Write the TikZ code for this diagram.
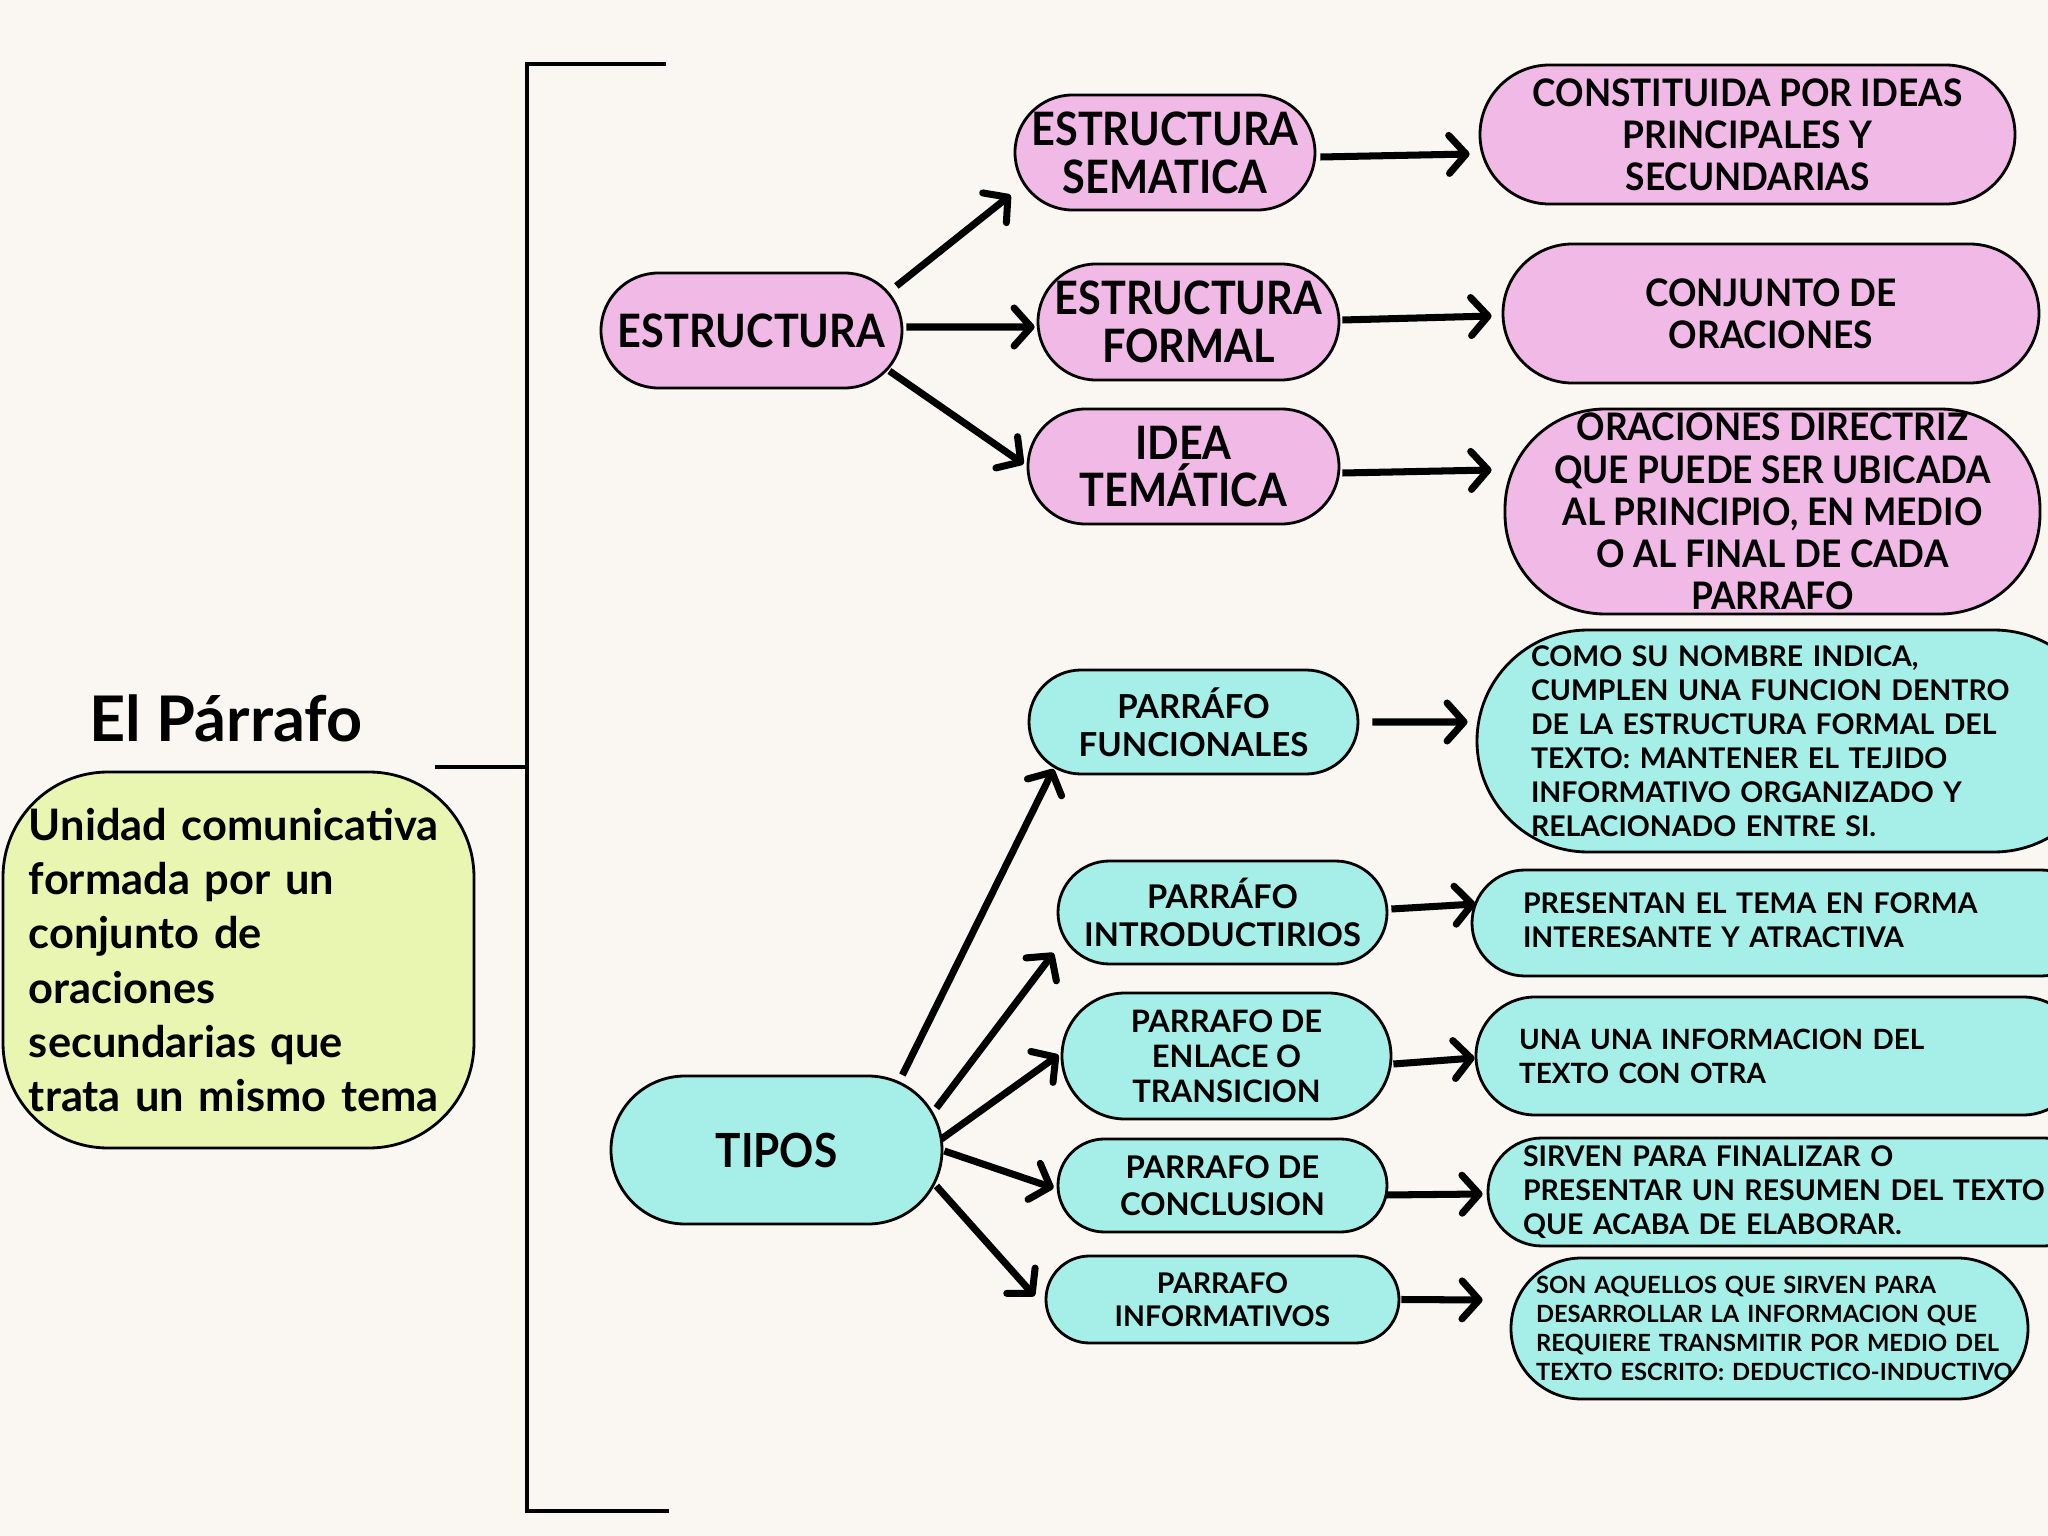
\documentclass[tikz,border=0pt]{standalone}
\usepackage{fontspec}
\setmainfont{Lato}
\newfontfamily\narrowf[FakeStretch=0.9]{Lato}
\newfontfamily\semif[FakeStretch=0.93]{Lato}
\usetikzlibrary{arrows.meta,calc}
\definecolor{bgc}{RGB}{250,246,241}
\definecolor{pinkc}{RGB}{240,185,230}
\definecolor{cyanc}{RGB}{166,238,232}
\definecolor{limec}{RGB}{233,246,178}
\newcommand\fsz[2]{\bfseries\fontsize{#1}{#2}\selectfont}
\newcommand\lnb[1]{\mbox{#1}}
\tikzset{
  box/.style={draw=black, line width=0.8pt, text=black, inner sep=0pt, align=center},
  pinkbox/.style={box, fill=pinkc},
  cyanbox/.style={box, fill=cyanc},
  leftbox/.style={cyanbox, align=left},
  arr/.style={line width=2pt, -{Straight Barb[length=0.17cm,width=0.38cm,round]}},
  brk/.style={line width=0.9pt}
}
\begin{document}
\begin{tikzpicture}
\path[use as bounding box, fill=bgc] (0,0) rectangle (20.48,-15.36);
\clip (0,0) rectangle (20.48,-15.36);

% bracket
\draw[brk] (6.66,-0.64) -- (5.27,-0.64) -- (5.27,-15.11) -- (6.69,-15.11);
\draw[brk] (4.35,-7.67) -- (5.25,-7.67);

% title and definition
\node[anchor=base, font=\fsz{17.9}{20}] (title) at (2.26,-7.42) {El Párrafo};
\node[box, fill=limec, text width=4.19cm, inner xsep=0.26cm, align=left, minimum height=3.76cm, rounded corners=1.05cm, font=\fsz{12.35}{15.4}] (def) at (2.385,-9.60)
  {\lnb{Unidad comunicativa}\\\lnb{formada por un}\\\lnb{conjunto de}\\\lnb{oraciones}\\\lnb{secundarias que}\\\lnb{trata un mismo tema}};

% estructura branch
\node[pinkbox, minimum width=3.01cm, minimum height=1.15cm, rounded corners=0.575cm, font=\narrowf\fsz{13.1}{13.6}] (estr) at (7.515,-3.305) {ESTRUCTURA};
\node[pinkbox, minimum width=3.00cm, minimum height=1.15cm, rounded corners=0.575cm, font=\narrowf\fsz{13.1}{13.6}] (sem) at (11.65,-1.525) {ESTRUCTURA\\SEMATICA};
\node[pinkbox, minimum width=3.01cm, minimum height=1.16cm, rounded corners=0.58cm, font=\narrowf\fsz{13.1}{13.6}] (form) at (11.885,-3.22) {ESTRUCTURA\\FORMAL};
\node[pinkbox, minimum width=3.11cm, minimum height=1.15cm, rounded corners=0.575cm, font=\narrowf\fsz{13.1}{13.6}] (idea) at (11.835,-4.665) {IDEA\\TEMÁTICA};

\node[pinkbox, minimum width=5.35cm, minimum height=1.39cm, rounded corners=0.695cm, font=\semif\fsz{10.8}{12}] (const) at (17.475,-1.345) {CONSTITUIDA POR IDEAS\\PRINCIPALES Y\\SECUNDARIAS};
\node[pinkbox, minimum width=5.36cm, minimum height=1.39cm, rounded corners=0.695cm, font=\semif\fsz{10.8}{12}] (conj) at (17.71,-3.135) {CONJUNTO DE\\ORACIONES};
\node[pinkbox, minimum width=5.35cm, minimum height=2.05cm, rounded corners=1.0cm, font=\semif\fsz{10.8}{12}] (orac) at (17.725,-5.115) {ORACIONES DIRECTRIZ\\QUE PUEDE SER UBICADA\\AL PRINCIPIO, EN MEDIO\\O AL FINAL DE CADA\\PARRAFO};

% tipos branch
\node[cyanbox, minimum width=3.31cm, minimum height=1.48cm, rounded corners=0.74cm, font=\narrowf\fsz{13.4}{14}] (tipos) at (7.765,-11.50) {TIPOS};
\node[cyanbox, minimum width=3.29cm, minimum height=1.04cm, rounded corners=0.52cm, font=\fsz{9.4}{10.8}] (func) at (11.935,-7.22) {PARRÁFO\\FUNCIONALES};
\node[cyanbox, minimum width=3.29cm, minimum height=1.03cm, rounded corners=0.515cm, font=\fsz{9.3}{10.8}] (intro) at (12.225,-9.125) {PARRÁFO\\INTRODUCTIRIOS};
\node[cyanbox, minimum width=3.29cm, minimum height=1.26cm, rounded corners=0.63cm, font=\fsz{8.8}{10}] (enl) at (12.265,-10.56) {PARRAFO DE\\ENLACE O\\TRANSICION};
\node[cyanbox, minimum width=3.29cm, minimum height=0.93cm, rounded corners=0.465cm, font=\fsz{8.9}{10.5}] (concl) at (12.225,-11.855) {PARRAFO DE\\CONCLUSION};
\node[cyanbox, minimum width=3.53cm, minimum height=0.87cm, rounded corners=0.435cm, font=\fsz{8.1}{9.4}] (info) at (12.225,-12.995) {PARRAFO\\INFORMATIVOS};

\node[leftbox, text width=5.20cm, inner xsep=0.54cm, minimum height=2.22cm, rounded corners=1.11cm, font=\fsz{8.1}{9.7}] (como) at (17.91,-7.41)
  {\lnb{COMO SU NOMBRE INDICA,}\\\lnb{CUMPLEN UNA FUNCION DENTRO}\\\lnb{DE LA ESTRUCTURA FORMAL DEL}\\\lnb{TEXTO: MANTENER EL TEJIDO}\\\lnb{INFORMATIVO ORGANIZADO Y}\\\lnb{RELACIONADO ENTRE SI.}};
\node[leftbox, text width=5.20cm, inner xsep=0.51cm, minimum height=1.06cm, rounded corners=0.53cm, font=\fsz{8.1}{9.7}] (pres) at (17.83,-9.23)
  {\lnb{PRESENTAN EL TEMA EN FORMA}\\\lnb{INTERESANTE Y ATRACTIVA}\vphantom{g}};
\node[leftbox, text width=5.20cm, inner xsep=0.43cm, minimum height=1.18cm, rounded corners=0.59cm, font=\fsz{7.95}{9.7}] (una) at (17.79,-10.56)
  {\lnb{UNA UNA INFORMACION DEL}\\\lnb{TEXTO CON OTRA}};
\node[leftbox, text width=5.40cm, inner xsep=0.35cm, minimum height=1.08cm, rounded corners=0.54cm, font=\fsz{8.1}{9.6}] (sirv) at (17.93,-11.92)
  {\lnb{SIRVEN PARA FINALIZAR O}\\\lnb{PRESENTAR UN RESUMEN DEL TEXTO}\\\lnb{QUE ACABA DE ELABORAR.}};
\node[leftbox, text width=4.67cm, inner xsep=0.25cm, minimum height=1.41cm, rounded corners=0.705cm, font=\fsz{6.75}{8.2}] (son) at (17.695,-13.285)
  {\lnb{SON AQUELLOS QUE SIRVEN PARA}\\\lnb{DESARROLLAR LA INFORMACION QUE}\\\lnb{REQUIERE TRANSMITIR POR MEDIO DEL}\\\lnb{TEXTO ESCRITO: DEDUCTICO-INDUCTIVO}};

% arrows
\draw[arr] ($(estr.east)+(-0.07,0.445)$) -- ($(sem.west)+(-0.03,-0.425)$);
\draw[arr] ($(estr.east)+(0.03,0.035)$) -- ($(form.west)+(-0.02,-0.05)$);
\draw[arr] ($(estr.east)+(-0.14,-0.405)$) -- ($(idea.west)+(-0.03,0.025)$);
\draw[arr] ($(sem.east)+(0.04,-0.045)$) -- ($(const.west)+(-0.09,-0.195)$);
\draw[arr] ($(form.east)+(0.02,0.02)$) -- ($(conj.west)+(-0.10,-0.025)$);
\draw[arr] ($(idea.east)+(0.02,-0.065)$) -- ($(orac.west)+(-0.12,0.415)$);

\draw[arr] ($(tipos.east)+(-0.41,0.75)$) -- ($(func.west)+(0.26,-0.47)$);
\draw[arr] ($(tipos.east)+(-0.07,0.42)$) -- ($(intro.west)+(-0.03,-0.405)$);
\draw[arr] ($(tipos.east)+(-0.02,0.11)$) -- ($(enl.west)+(-0.02,0.01)$);
\draw[arr] ($(tipos.east)+(0.01,-0.01)$) -- ($(concl.west)+(-0.03,-0.025)$);
\draw[arr] ($(tipos.east)+(-0.07,-0.36)$) -- ($(info.west)+(-0.10,0.035)$);

\draw[arr] ($(func.east)+(0.13,0)$) -- ($(como.west)+(-0.08,0.19)$);
\draw[arr] ($(intro.east)+(0.03,0.035)$) -- ($(pres.west)+(0.05,0.19)$);
\draw[arr] ($(enl.east)+(0.01,-0.08)$) -- ($(una.west)+(0,-0.02)$);
\draw[arr] ($(concl.east)+(-0.03,-0.095)$) -- ($(sirv.west)+(-0.04,-0.02)$);
\draw[arr] ($(info.east)+(0.01,0)$) -- ($(son.west)+(-0.27,0.285)$);
\end{tikzpicture}
\end{document}
